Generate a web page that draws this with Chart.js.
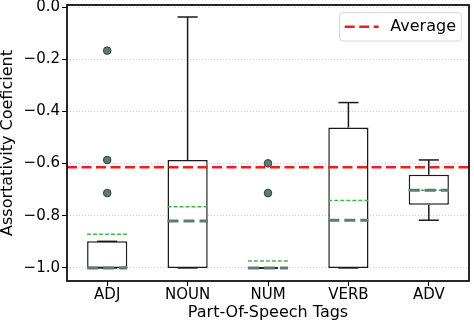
<!DOCTYPE html>
<html>
<head>
<meta charset="utf-8">
<script src="https://cdn.jsdelivr.net/npm/chart.js@4"></script>
<style>
  html, body { margin: 0; padding: 0; background: #fff; }
  #wrap { width: 474px; height: 325px; }
</style>
</head>
<body>
<div id="wrap"><canvas id="boxChart" width="474" height="325"></canvas></div>
<script>
// Part-of-speech tags and box plot statistics
const categories = ['ADJ', 'NOUN', 'NUM', 'VERB', 'ADV'];
const q1Values = [-1.0, -1.0, -1.0, -1.0, -0.758];
const q3Values = [-0.898, -0.586, -1.0, -0.462, -0.643];
const whiskerLow = [-1.0, -1.0, -1.0, -1.0, -0.817];
const whiskerHigh = [-0.898, -0.038, -1.0, -0.366, -0.586];
const medianValues = [-1.0, -0.82, -1.0, -0.817, -0.702];
const meanValues = [-0.871, -0.765, -0.973, -0.741, -0.702];
const outlierTags = ['ADJ', 'ADJ', 'ADJ', 'NUM', 'NUM'];
const outlierValues = [-0.167, -0.586, -0.713, -0.599, -0.713];
const averageValue = -0.614;
const yTickValues = [-1.0, -0.8, -0.6, -0.4, -0.2, 0.0];

const FONT = 'DejaVu Sans';

// whiskers, caps, medians, means, average line, frame and legend
const boxExtras = {
    id: 'boxExtras',
    beforeDatasetsDraw(chart) {
        const ctx = chart.ctx;
        const y = chart.scales.y;
        const bars = chart.getDatasetMeta(0).data;
        ctx.save();
        ctx.strokeStyle = '#1a1a1a';
        ctx.lineWidth = 1.5;
        bars.forEach((bar, i) => {
            const cap = bar.width / 4;
            const pairs = [[q3Values[i], whiskerHigh[i]], [q1Values[i], whiskerLow[i]]];
            pairs.forEach(([from, to]) => {
                ctx.beginPath();
                ctx.moveTo(bar.x, y.getPixelForValue(from));
                ctx.lineTo(bar.x, y.getPixelForValue(to));
                ctx.stroke();
                ctx.beginPath();
                ctx.moveTo(bar.x - cap, y.getPixelForValue(to));
                ctx.lineTo(bar.x + cap, y.getPixelForValue(to));
                ctx.stroke();
            });
        });
        ctx.restore();
    },
    afterDatasetsDraw(chart) {
        const ctx = chart.ctx;
        const y = chart.scales.y;
        const area = chart.chartArea;
        const bars = chart.getDatasetMeta(0).data;
        ctx.save();
        bars.forEach((bar, i) => {
            const half = bar.width / 2;
            // mean
            ctx.strokeStyle = '#4caf50';
            ctx.lineWidth = 1.5;
            ctx.setLineDash([4, 2]);
            ctx.beginPath();
            ctx.moveTo(bar.x - half, y.getPixelForValue(meanValues[i]));
            ctx.lineTo(bar.x + half, y.getPixelForValue(meanValues[i]));
            ctx.stroke();
            // median
            ctx.strokeStyle = '#5f7b6d';
            ctx.lineWidth = 3;
            ctx.setLineDash([11, 5]);
            ctx.beginPath();
            ctx.moveTo(bar.x - half, y.getPixelForValue(medianValues[i]));
            ctx.lineTo(bar.x + half, y.getPixelForValue(medianValues[i]));
            ctx.stroke();
        });
        // overall average
        ctx.strokeStyle = '#ee1c1c';
        ctx.lineWidth = 2.5;
        ctx.setLineDash([10, 4.5]);
        const ay = y.getPixelForValue(averageValue);
        ctx.beginPath();
        ctx.moveTo(area.left, ay);
        ctx.lineTo(area.right, ay);
        ctx.stroke();
        ctx.restore();
    },
    afterDraw(chart) {
        const ctx = chart.ctx;
        const area = chart.chartArea;
        ctx.save();
        ctx.strokeStyle = '#111';
        ctx.lineWidth = 1.8;
        ctx.strokeRect(area.left, area.top, area.right - area.left, area.bottom - area.top);

        // legend box
        const w = 121.6, h = 28.3;
        const lx = area.right - 7.7 - w, ly = area.top + 7.7;
        ctx.beginPath();
        ctx.roundRect(lx, ly, w, h, 3);
        ctx.fillStyle = 'rgba(255,255,255,0.8)';
        ctx.fill();
        ctx.strokeStyle = '#d6d6d6';
        ctx.lineWidth = 1;
        ctx.stroke();
        const cy = ly + h / 2;
        ctx.strokeStyle = '#ee1c1c';
        ctx.lineWidth = 2.5;
        ctx.setLineDash([10, 4.5]);
        ctx.beginPath();
        ctx.moveTo(lx + 5, cy);
        ctx.lineTo(lx + 39, cy);
        ctx.stroke();
        ctx.setLineDash([]);
        ctx.fillStyle = '#000';
        ctx.font = '16px "' + FONT + '"';
        ctx.textBaseline = 'middle';
        ctx.textAlign = 'left';
        ctx.fillText('Average', lx + 50.6, cy);
        ctx.restore();
    }
};

const ctx = document.getElementById('boxChart').getContext('2d');
new Chart(ctx, {
    type: 'bar',
    data: {
        labels: categories,
        datasets: [
            {
                label: 'Boxes',
                data: categories.map((c, i) => [q1Values[i], q3Values[i]]),
                backgroundColor: '#ffffff',
                borderColor: '#1a1a1a',
                borderWidth: 1.5,
                borderSkipped: false,
                barPercentage: 0.5,
                categoryPercentage: 1.0
            },
            {
                type: 'scatter',
                label: 'Outliers',
                data: outlierTags.map((t, i) => ({ x: t, y: outlierValues[i] })),
                pointRadius: 3.8,
                pointBackgroundColor: '#5e7b6f',
                pointBorderColor: '#2f4038',
                pointBorderWidth: 1
            }
        ]
    },
    options: {
        responsive: false,
        animation: false,
        layout: { padding: { left: 0, top: 4, right: 3, bottom: 0 } },
        plugins: {
            legend: { display: false },
            tooltip: { enabled: false }
        },
        scales: {
            x: {
                type: 'category',
                offset: true,
                afterFit: s => { s.height = 44; },
                grid: { drawOnChartArea: false, offset: false, tickLength: 5, tickColor: '#000', tickWidth: 1 },
                border: { display: false },
                ticks: { color: '#000', font: { family: FONT, size: 15 }, padding: 0.5 },
                title: { display: true, text: 'Part-Of-Speech Tags', color: '#000', font: { family: FONT, size: 16 }, padding: { top: 0, bottom: 2.5 } }
            },
            y: {
                min: -1.05,
                max: 0.008,
                afterFit: s => { s.width = 67; s.paddingTop = 0; s.paddingBottom = 0; },
                afterBuildTicks: s => { s.ticks = yTickValues.map(v => ({ value: v })); },
                grid: { color: '#c8c8c8', lineWidth: 0.8, tickLength: 5, tickColor: '#000', tickWidth: 1, tickBorderDash: [] },
                border: { display: false, dash: [1, 2] },
                ticks: {
                    color: '#000',
                    font: { family: FONT, size: 15 },
                    padding: 2,
                    callback: v => v.toFixed(1).replace('-', '\u2212')
                },
                title: { display: true, text: 'Assortativity Coeficient', color: '#000', font: { family: FONT, size: 16 }, padding: { top: -1.8, bottom: 0 } }
            }
        }
    },
    plugins: [boxExtras]
});
</script>
</body>
</html>
